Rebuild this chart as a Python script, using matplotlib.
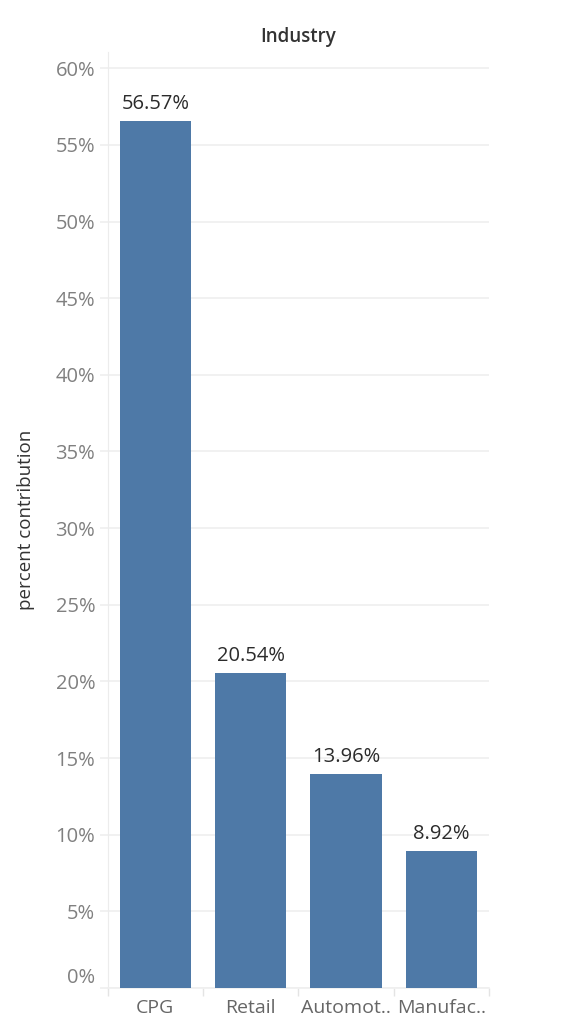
import matplotlib
matplotlib.use("Agg")
import matplotlib.pyplot as plt
from matplotlib.ticker import FixedLocator, FuncFormatter

plt.rcParams['font.family'] = ['Open Sans', 'DejaVu Sans']

industries = ["CPG", "Retail", "Automot..", "Manufac.."]
contribution = [56.57, 20.54, 13.96, 8.92]
ytick_vals = [0, 5, 10, 15, 20, 25, 30, 35, 40, 45, 50, 55, 60]

bar_col = "#4e79a7"
grid_col = "#efefef"

fig = plt.figure(figsize=(5.74, 10.24), dpi=100)
ax = fig.add_axes([107.7 / 574, 36 / 1024, (488.9 - 107.7) / 574, (988 - 52) / 1024])

xs = range(len(industries))
ax.bar(xs, contribution, width=0.75, color=bar_col, zorder=3)

for x, v in zip(xs, contribution):
    ax.annotate("%.2f%%" % v, (x, v), xytext=(0, 5), textcoords="offset points",
                ha="center", va="bottom", fontsize=14.5, color="#2b2b2b")

ax.set_xlim(-0.5, len(industries) - 0.5)
ax.set_ylim(0, 61.06)

ax.set_yticks(ytick_vals)
ax.yaxis.set_major_formatter(FuncFormatter(lambda v, p: "%d%%" % v))
ax.yaxis.grid(True, color=grid_col, linewidth=1.2, zorder=0)
ax.tick_params(axis="y", length=6, color=grid_col, width=1.2, pad=3,
               labelsize=14.5, labelcolor="#808080")
# nudge the 0% label up like the reference
for lab in ax.get_yticklabels():
    if lab.get_text() == "0%":
        lab.set_verticalalignment("bottom")

ax.set_xticks(list(xs))
ax.set_xticklabels(industries)
ax.tick_params(axis="x", which="major", length=0, pad=8, labelsize=14,
               labelcolor="#666666")
ax.xaxis.set_minor_locator(FixedLocator([i - 0.5 for i in range(len(industries) + 1)]))
ax.tick_params(axis="x", which="minor", length=6, color="#e4e4e4", width=1)

for s in ["top", "right"]:
    ax.spines[s].set_visible(False)
ax.spines["left"].set_color("#ececec")
ax.spines["bottom"].set_color(grid_col)
ax.spines["bottom"].set_linewidth(1.2)

ax.set_ylabel("percent contribution", fontsize=13.5, color="#333333")
ax.yaxis.set_label_coords((35 - 107.7) / 381.2, 0.5)

fig.text(298.5 / 574, 1 - 37 / 1024, "Industry", ha="center", va="center",
         fontsize=13.5, color="#333333", fontweight="semibold")

fig.savefig("out.png", dpi=100)
